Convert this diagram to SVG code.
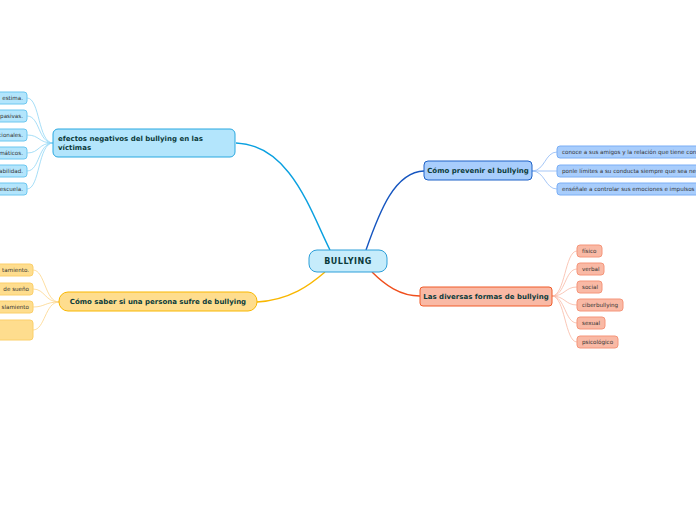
<svg xmlns="http://www.w3.org/2000/svg" width="696" height="520" viewBox="0 0 696 520">
<style>
text{font-family:"DejaVu Sans",Verdana,sans-serif;font-size:5.6px;fill:#333;stroke:none}
.b{font-weight:bold;font-size:7px;fill:#0b3b3b}
.c{fill:none;stroke-width:1.4}
.t{fill:none;stroke-width:0.8}
</style>
<g id="connectors">
<path class="c" stroke="#0aa0e0" d="M330,250 C310,210 290,145 236,143"/>
<path class="c" stroke="#1656c0" d="M366,250 C380,210 395,172 424,171"/>
<path class="c" stroke="#f9b700" d="M325,272 C310,285 290,300 257,302"/>
<path class="c" stroke="#f04e1c" d="M372,272 C385,285 400,296 420,296"/>
<g stroke="#8fd6f5" class="t">
<path d="M53,143 C38,143 40,98 27,98"/><path d="M53,143 C38,143 40,116 27,116"/><path d="M53,143 C38,143 40,135 27,135"/><path d="M53,143 C38,143 40,153 27,153"/><path d="M53,143 C38,143 40,171 27,171"/><path d="M53,143 C38,143 40,189 27,189"/>
</g>
<g stroke="#8fb9f5" class="t">
<path d="M532,171 C545,171 545,152 557,152"/><path d="M532,171 L557,171"/><path d="M532,171 C545,171 545,189 557,189"/>
</g>
<g stroke="#fdd68a" class="t">
<path d="M59,302 C45,302 45,270 33,270"/><path d="M59,302 C45,302 45,289 33,289"/><path d="M59,302 C45,302 45,307 33,307"/><path d="M59,302 C45,302 45,330 33,330"/>
</g>
<g stroke="#f9b9a5" class="t">
<path d="M552,296 C565,296 565,251 577,251"/><path d="M552,296 C565,296 565,269 577,269"/><path d="M552,296 C565,296 565,287 577,287"/><path d="M552,296 C565,296 565,305 577,305"/><path d="M552,296 C565,296 565,323 577,323"/><path d="M552,296 C565,296 565,342 577,342"/>
</g>
</g>
<g id="central"><rect x="309" y="250" width="78" height="22" rx="8" fill="#c6ecfb" stroke="#2d9fd9"/><text x="348" y="264" text-anchor="middle" class="b" style="font-size:8px;letter-spacing:0.5px">BULLYING</text></g>
<g id="efectos"><rect x="53" y="129" width="182" height="28" rx="5" fill="#b3e5fc" stroke="#29a8e0"/><text x="58" y="141" class="b">efectos negativos del bullying en las</text><text x="58" y="150" class="b">víctimas</text></g>
<g id="efectos-hijos">
<g fill="#b3e5fc" stroke="#6cc7f0">
<rect x="-20" y="92" width="47" height="12" rx="3"/><rect x="-20" y="110" width="47" height="12" rx="3"/><rect x="-20" y="129" width="47" height="12" rx="3"/><rect x="-20" y="147" width="47" height="12" rx="3"/><rect x="-20" y="165" width="47" height="12" rx="3"/><rect x="-20" y="183" width="47" height="12" rx="3"/></g>
<text x="23" y="100" text-anchor="end">estima.</text><text x="23" y="118" text-anchor="end">pasivas.</text><text x="23" y="137" text-anchor="end">cionales.</text><text x="23" y="155" text-anchor="end">máticos.</text><text x="23" y="173" text-anchor="end">abilidad.</text><text x="23" y="191" text-anchor="end">escuela.</text>
</g>
<g id="prevenir"><rect x="424" y="161" width="108" height="19" rx="4" fill="#a8cdfc" stroke="#1e62c8"/><text x="478" y="173" text-anchor="middle" class="b">Cómo prevenir el bullying</text></g>
<g id="prevenir-hijos">
<g fill="#a8cdfc" stroke="#7aaef5"><rect x="557" y="146" width="160" height="12" rx="3"/><rect x="557" y="165" width="160" height="12" rx="3"/><rect x="557" y="183" width="160" height="12" rx="3"/></g>
<text x="562" y="154">conoce a sus amigos y la relación que tiene con ellos</text>
<text x="562" y="173">ponle límites a su conducta siempre que sea necesario</text>
<text x="562" y="191">enséñale a controlar sus emociones e impulsos</text>
</g>
<g id="saber"><rect x="59" y="292" width="198" height="19" rx="9" fill="#fedd8e" stroke="#f9b700"/><text x="158" y="304" text-anchor="middle" class="b">Cómo saber si una persona sufre de bullying</text></g>
<g id="saber-hijos">
<g fill="#fedd8e" stroke="#fbcf6a"><rect x="-20" y="264" width="53" height="12" rx="3"/><rect x="-20" y="283" width="53" height="12" rx="3"/><rect x="-20" y="301" width="53" height="12" rx="3"/><rect x="-20" y="320" width="53" height="20" rx="3"/></g>
<text x="29" y="272" text-anchor="end">tamiento.</text><text x="29" y="291" text-anchor="end">de sueño</text><text x="29" y="309" text-anchor="end">slamiento</text>
</g>
<g id="formas"><rect x="420" y="287" width="132" height="19" rx="3" fill="#f9b9a5" stroke="#f05a28"/><text x="486" y="299" text-anchor="middle" class="b">Las diversas formas de bullying</text></g>
<g id="formas-hijos">
<g fill="#f9b9a5" stroke="#f5957a"><rect x="577" y="245" width="25" height="12" rx="3"/><rect x="577" y="263" width="27" height="12" rx="3"/><rect x="577" y="281" width="25" height="12" rx="3"/><rect x="577" y="299" width="46" height="12" rx="3"/><rect x="577" y="317" width="28" height="12" rx="3"/><rect x="577" y="336" width="41" height="12" rx="3"/></g>
<text x="582" y="253">físico</text><text x="582" y="271">verbal</text><text x="582" y="289">social</text><text x="582" y="307">ciberbullying</text><text x="582" y="325">sexual</text><text x="582" y="344">psicológico</text>
</g>
</svg>
